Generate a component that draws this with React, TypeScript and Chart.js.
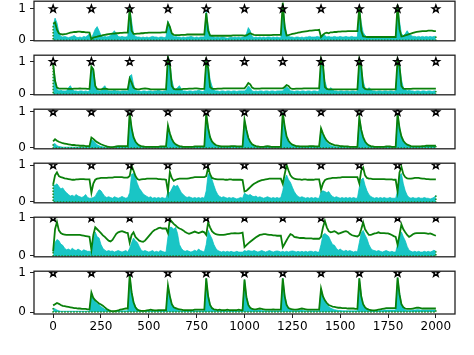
import React, { useEffect, useRef } from "react";
import { Chart, registerables } from "chart.js";

Chart.register(...registerables);

// sampling step of every series (x = index * STEP, 0..2000)
const STEP = 10;
const STAR_X = [0, 200, 400, 600, 800, 1000, 1200, 1400, 1600, 1800, 2000];
const STAR_Y = [1, 1, 1, 1, 1, 1, 1, 1, 1, 1, 1];
const X_TICKS = [0, 250, 500, 750, 1000, 1250, 1500, 1750, 2000];
const Y_TICKS = [0, 1];

// ---------- panel 1 ----------
const G1 = [
  0.52,0.56,0.33,0.22,0.19,0.18,0.19,0.2,0.22,0.24,0.25,0.26,0.26,0.27,0.27,0.26,0.26,0.25,0.25,0.24,
  0.03,0.08,0.1,0.11,0.13,0.14,0.16,0.17,0.18,0.19,0.2,0.21,0.21,0.22,0.22,0.23,0.23,0.24,0.24,0.24,
  1.0,0.3,0.2,0.2,0.21,0.21,0.22,0.22,0.23,0.23,0.24,0.24,0.24,0.24,0.24,0.24,0.24,0.25,0.25,0.25,
  0.55,0.42,0.22,0.17,0.16,0.16,0.16,0.17,0.17,0.17,0.18,0.18,0.18,0.18,0.18,0.18,0.18,0.18,0.18,0.18,
  0.86,0.3,0.15,0.14,0.14,0.14,0.14,0.14,0.14,0.14,0.14,0.14,0.14,0.14,0.15,0.15,0.15,0.15,0.15,0.15,
  0.14,0.15,0.19,0.22,0.19,0.17,0.16,0.16,0.16,0.16,0.16,0.16,0.16,0.16,0.16,0.17,0.17,0.17,0.17,0.17,
  1.19,0.4,0.15,0.16,0.18,0.2,0.21,0.22,0.24,0.25,0.26,0.27,0.28,0.29,0.3,0.3,0.31,0.32,0.32,0.33,
  0.1,0.17,0.22,0.24,0.22,0.25,0.25,0.26,0.26,0.27,0.27,0.28,0.28,0.28,0.29,0.29,0.29,0.29,0.29,0.29,
  1.05,0.3,0.12,0.11,0.1,0.1,0.1,0.1,0.1,0.1,0.1,0.1,0.1,0.1,0.1,0.1,0.1,0.1,0.1,0.1,
  1.12,0.35,0.12,0.13,0.15,0.17,0.19,0.21,0.23,0.25,0.26,0.27,0.28,0.29,0.29,0.29,0.3,0.3,0.3,0.29,
  0.29,
];
const C1 = [
  0.45,0.7,0.55,0.25,0.12,0.1,0.12,0.1,0.08,0.1,0.12,0.15,0.1,0.08,0.1,0.08,0.12,0.1,0.15,0.2,
  0.05,0.2,0.35,0.43,0.3,0.15,0.1,0.12,0.1,0.12,0.15,0.22,0.3,0.2,0.12,0.1,0.12,0.1,0.1,0.12,
  1.02,0.6,0.2,0.12,0.1,0.1,0.08,0.1,0.08,0.1,0.08,0.1,0.12,0.1,0.1,0.08,0.1,0.1,0.08,0.1,
  0.6,0.45,0.2,0.1,0.12,0.1,0.1,0.08,0.1,0.08,0.1,0.1,0.12,0.1,0.08,0.1,0.08,0.1,0.1,0.1,
  0.95,0.45,0.15,0.12,0.1,0.08,0.1,0.08,0.1,0.1,0.08,0.06,0.08,0.1,0.08,0.1,0.08,0.1,0.08,0.1,
  0.1,0.2,0.4,0.3,0.12,0.08,0.1,0.08,0.1,0.08,0.1,0.08,0.1,0.1,0.08,0.1,0.08,0.1,0.08,0.08,
  1.15,0.55,0.2,0.12,0.1,0.1,0.08,0.1,0.1,0.08,0.1,0.08,0.1,0.1,0.12,0.1,0.1,0.1,0.12,0.1,
  0.12,0.2,0.15,0.1,0.12,0.1,0.1,0.12,0.1,0.1,0.12,0.1,0.1,0.12,0.1,0.1,0.12,0.1,0.1,0.1,
  1.0,0.55,0.25,0.15,0.1,0.08,0.1,0.08,0.1,0.08,0.1,0.08,0.1,0.08,0.08,0.1,0.08,0.1,0.08,0.08,
  1.1,0.6,0.2,0.15,0.2,0.3,0.2,0.15,0.12,0.12,0.1,0.12,0.1,0.12,0.1,0.12,0.1,0.12,0.1,0.12,
  0.12,
];

// ---------- panel 2 ----------
const G2 = [
  0.94,0.4,0.2,0.17,0.17,0.17,0.17,0.17,0.16,0.16,0.16,0.17,0.17,0.17,0.18,0.17,0.17,0.17,0.16,0.16,
  0.84,0.75,0.25,0.16,0.15,0.15,0.16,0.17,0.16,0.15,0.15,0.15,0.15,0.15,0.15,0.15,0.15,0.15,0.15,0.15,
  0.48,0.35,0.2,0.16,0.15,0.15,0.16,0.17,0.18,0.17,0.16,0.15,0.15,0.15,0.15,0.15,0.15,0.15,0.15,0.15,
  1.13,0.9,0.25,0.16,0.15,0.15,0.15,0.15,0.16,0.16,0.16,0.17,0.17,0.17,0.18,0.18,0.17,0.16,0.16,0.16,
  1.0,0.8,0.22,0.17,0.16,0.16,0.17,0.17,0.17,0.18,0.18,0.18,0.18,0.18,0.18,0.18,0.18,0.18,0.18,0.18,
  0.18,0.25,0.34,0.3,0.2,0.17,0.17,0.17,0.17,0.18,0.18,0.18,0.18,0.18,0.18,0.18,0.18,0.18,0.18,0.18,
  0.18,0.22,0.28,0.25,0.18,0.16,0.16,0.17,0.17,0.17,0.17,0.18,0.18,0.18,0.18,0.18,0.18,0.18,0.18,0.18,
  1.07,0.9,0.22,0.16,0.15,0.15,0.15,0.15,0.15,0.15,0.15,0.15,0.15,0.15,0.15,0.15,0.15,0.15,0.15,0.15,
  1.06,0.85,0.22,0.16,0.15,0.15,0.15,0.15,0.15,0.15,0.15,0.15,0.15,0.15,0.15,0.15,0.15,0.15,0.15,0.15,
  1.05,0.85,0.25,0.17,0.16,0.16,0.16,0.16,0.17,0.17,0.17,0.17,0.17,0.17,0.17,0.17,0.17,0.17,0.17,0.17,
  0.17,
];
const C2 = [
  0.9,0.5,0.15,0.1,0.12,0.1,0.1,0.1,0.2,0.26,0.15,0.1,0.1,0.08,0.1,0.1,0.08,0.1,0.08,0.1,
  0.85,0.8,0.3,0.12,0.1,0.1,0.2,0.26,0.15,0.1,0.1,0.1,0.12,0.1,0.1,0.08,0.1,0.1,0.1,0.08,
  0.55,0.6,0.3,0.12,0.1,0.1,0.08,0.1,0.1,0.08,0.1,0.1,0.08,0.1,0.1,0.12,0.1,0.08,0.1,0.1,
  1.15,1.0,0.45,0.2,0.15,0.2,0.26,0.15,0.1,0.1,0.08,0.1,0.1,0.08,0.1,0.1,0.12,0.1,0.08,0.1,
  1.05,0.9,0.45,0.25,0.12,0.1,0.1,0.08,0.1,0.1,0.08,0.1,0.1,0.08,0.1,0.1,0.08,0.1,0.1,0.1,
  0.1,0.15,0.25,0.2,0.1,0.08,0.1,0.08,0.1,0.1,0.08,0.1,0.1,0.08,0.1,0.1,0.08,0.1,0.1,0.1,
  0.1,0.18,0.22,0.18,0.1,0.1,0.08,0.1,0.1,0.08,0.1,0.1,0.08,0.1,0.1,0.08,0.1,0.1,0.08,0.1,
  1.05,0.95,0.4,0.2,0.12,0.2,0.15,0.1,0.1,0.08,0.1,0.1,0.08,0.1,0.1,0.08,0.1,0.1,0.08,0.1,
  1.03,0.9,0.4,0.2,0.12,0.2,0.15,0.1,0.1,0.08,0.1,0.1,0.08,0.1,0.1,0.08,0.1,0.1,0.08,0.1,
  1.0,0.95,0.45,0.2,0.15,0.1,0.12,0.1,0.1,0.08,0.1,0.1,0.08,0.1,0.1,0.08,0.1,0.1,0.08,0.1,
  0.1,
];

// ---------- panel 3 ----------
const G3 = [
  0.18,0.24,0.2,0.17,0.15,0.13,0.12,0.11,0.1,0.09,0.08,0.08,0.07,0.07,0.06,0.06,0.06,0.05,0.05,0.05,
  0.29,0.25,0.2,0.16,0.13,0.1,0.08,0.06,0.04,0.03,0.02,0.02,0.03,0.04,0.05,0.05,0.05,0.05,0.05,0.05,
  0.98,0.55,0.3,0.18,0.11,0.07,0.05,0.04,0.03,0.03,0.03,0.03,0.03,0.03,0.03,0.03,0.04,0.04,0.04,0.04,
  0.62,0.4,0.25,0.15,0.1,0.07,0.05,0.04,0.03,0.03,0.03,0.03,0.03,0.03,0.04,0.04,0.04,0.04,0.04,0.04,
  0.95,0.55,0.3,0.18,0.12,0.08,0.06,0.05,0.04,0.04,0.04,0.04,0.04,0.05,0.05,0.05,0.04,0.04,0.04,0.04,
  0.78,0.5,0.28,0.17,0.1,0.07,0.05,0.04,0.03,0.03,0.03,0.04,0.05,0.04,0.03,0.03,0.03,0.03,0.03,0.03,
  0.98,0.6,0.32,0.2,0.13,0.09,0.07,0.05,0.05,0.04,0.04,0.04,0.04,0.04,0.05,0.05,0.05,0.04,0.04,0.04,
  0.54,0.4,0.28,0.2,0.15,0.12,0.1,0.08,0.07,0.06,0.05,0.05,0.04,0.04,0.04,0.03,0.03,0.03,0.03,0.03,
  0.85,0.5,0.3,0.18,0.11,0.07,0.05,0.04,0.03,0.03,0.03,0.03,0.03,0.03,0.04,0.04,0.04,0.03,0.03,0.03,
  0.95,0.55,0.32,0.2,0.13,0.09,0.07,0.05,0.04,0.04,0.04,0.04,0.04,0.05,0.05,0.06,0.06,0.06,0.06,0.06,
  0.06,
];
const C3 = [
  0.1,0.12,0.06,0.04,0.03,0.02,0.02,0.02,0.02,0.02,0.02,0.02,0.02,0.02,0.02,0.02,0.02,0.02,0.02,0.02,
  0.22,0.2,0.14,0.09,0.06,0.04,0.03,0.02,0.02,0.02,0.02,0.02,0.02,0.02,0.03,0.03,0.03,0.03,0.03,0.03,
  0.98,0.6,0.3,0.16,0.09,0.05,0.04,0.03,0.02,0.02,0.02,0.02,0.02,0.02,0.02,0.02,0.03,0.03,0.03,0.03,
  0.62,0.42,0.24,0.13,0.08,0.05,0.04,0.03,0.02,0.02,0.02,0.02,0.02,0.02,0.03,0.03,0.03,0.03,0.03,0.03,
  0.95,0.6,0.3,0.16,0.1,0.06,0.04,0.03,0.03,0.03,0.03,0.03,0.03,0.04,0.04,0.04,0.03,0.03,0.03,0.03,
  0.78,0.52,0.26,0.14,0.08,0.05,0.04,0.03,0.02,0.02,0.02,0.03,0.04,0.03,0.02,0.02,0.02,0.02,0.02,0.02,
  0.98,0.62,0.3,0.17,0.1,0.07,0.05,0.04,0.04,0.03,0.03,0.03,0.03,0.03,0.04,0.04,0.04,0.03,0.03,0.03,
  0.54,0.4,0.24,0.15,0.1,0.07,0.05,0.04,0.03,0.03,0.03,0.03,0.02,0.02,0.02,0.02,0.02,0.02,0.02,0.02,
  0.85,0.55,0.28,0.15,0.08,0.05,0.04,0.03,0.02,0.02,0.02,0.02,0.02,0.02,0.03,0.03,0.03,0.02,0.02,0.02,
  0.95,0.6,0.3,0.17,0.1,0.07,0.05,0.04,0.03,0.03,0.03,0.03,0.03,0.04,0.04,0.05,0.05,0.05,0.05,0.05,
  0.05,
];

// ---------- panel 4 ----------
const G4 = [
  0.47,0.72,0.8,0.7,0.67,0.66,0.64,0.63,0.62,0.61,0.6,0.6,0.61,0.61,0.62,0.62,0.62,0.61,0.61,0.61,
  0.25,0.5,0.6,0.63,0.64,0.65,0.65,0.65,0.65,0.66,0.66,0.66,0.67,0.67,0.67,0.67,0.67,0.66,0.66,0.66,
  0.7,0.98,0.85,0.7,0.62,0.6,0.61,0.62,0.62,0.63,0.63,0.63,0.63,0.63,0.63,0.62,0.62,0.61,0.61,0.6,
  0.28,0.81,0.65,0.57,0.6,0.62,0.63,0.63,0.63,0.63,0.63,0.64,0.65,0.66,0.67,0.67,0.67,0.67,0.67,0.67,
  0.7,0.93,0.75,0.65,0.63,0.62,0.61,0.61,0.61,0.61,0.6,0.6,0.61,0.61,0.6,0.6,0.6,0.6,0.6,0.59,
  0.28,0.3,0.35,0.4,0.45,0.49,0.52,0.55,0.57,0.59,0.6,0.61,0.62,0.63,0.63,0.63,0.63,0.63,0.63,0.63,
  0.49,0.75,1.0,0.85,0.72,0.66,0.63,0.62,0.61,0.61,0.6,0.61,0.61,0.6,0.6,0.6,0.6,0.61,0.61,0.61,
  0.33,0.5,0.59,0.62,0.63,0.64,0.65,0.65,0.65,0.66,0.66,0.67,0.67,0.67,0.67,0.67,0.67,0.67,0.67,0.67,
  0.5,0.85,0.93,0.72,0.65,0.63,0.63,0.62,0.62,0.62,0.62,0.62,0.62,0.62,0.61,0.61,0.61,0.61,0.6,0.6,
  0.28,0.8,0.95,0.75,0.67,0.64,0.63,0.63,0.64,0.65,0.65,0.65,0.64,0.63,0.63,0.62,0.62,0.61,0.61,0.61,
  0.61,
];
const C4 = [
  0.47,0.45,0.49,0.42,0.35,0.38,0.3,0.25,0.2,0.16,0.18,0.15,0.2,0.16,0.14,0.12,0.15,0.2,0.12,0.1,
  0.1,0.12,0.15,0.25,0.33,0.3,0.22,0.15,0.12,0.14,0.12,0.1,0.14,0.12,0.1,0.12,0.15,0.12,0.1,0.12,
  0.25,0.75,0.77,0.65,0.5,0.37,0.3,0.22,0.18,0.15,0.12,0.14,0.1,0.12,0.1,0.12,0.1,0.12,0.1,0.1,
  0.28,0.25,0.35,0.45,0.42,0.45,0.35,0.25,0.2,0.15,0.12,0.14,0.12,0.1,0.12,0.1,0.12,0.1,0.12,0.1,
  0.3,0.77,0.7,0.61,0.45,0.3,0.2,0.15,0.12,0.14,0.12,0.1,0.12,0.1,0.12,0.1,0.08,0.1,0.12,0.1,
  0.24,0.2,0.18,0.2,0.16,0.14,0.16,0.12,0.14,0.12,0.1,0.12,0.14,0.12,0.1,0.12,0.1,0.12,0.1,0.12,
  0.3,0.6,0.73,0.6,0.53,0.4,0.28,0.2,0.15,0.12,0.14,0.12,0.1,0.12,0.1,0.12,0.1,0.12,0.1,0.1,
  0.28,0.3,0.28,0.25,0.28,0.2,0.15,0.12,0.14,0.12,0.1,0.12,0.1,0.12,0.1,0.12,0.1,0.12,0.1,0.1,
  0.4,0.6,0.65,0.45,0.3,0.2,0.15,0.12,0.1,0.12,0.1,0.12,0.1,0.12,0.1,0.1,0.12,0.1,0.1,0.1,
  0.3,0.7,0.77,0.49,0.3,0.18,0.12,0.1,0.12,0.1,0.1,0.12,0.1,0.1,0.12,0.1,0.1,0.08,0.1,0.12,
  0.18,
];

// ---------- panel 5 ----------
const G5 = [
  0.12,0.7,0.89,0.67,0.6,0.57,0.56,0.55,0.55,0.55,0.55,0.55,0.55,0.55,0.55,0.54,0.53,0.52,0.51,0.5,
  0.16,0.55,0.75,0.7,0.65,0.6,0.54,0.5,0.45,0.4,0.38,0.42,0.5,0.58,0.62,0.64,0.65,0.63,0.61,0.6,
  0.35,0.55,0.62,0.5,0.45,0.4,0.38,0.37,0.4,0.46,0.52,0.58,0.64,0.68,0.7,0.73,0.74,0.72,0.72,0.72,
  0.6,0.96,0.9,0.84,0.8,0.75,0.72,0.7,0.67,0.63,0.6,0.58,0.6,0.62,0.64,0.62,0.6,0.62,0.64,0.62,
  0.55,0.88,0.75,0.65,0.6,0.57,0.56,0.55,0.55,0.55,0.56,0.57,0.58,0.59,0.59,0.6,0.59,0.59,0.6,0.61,
  0.23,0.28,0.33,0.37,0.41,0.45,0.49,0.52,0.55,0.56,0.57,0.57,0.56,0.55,0.55,0.54,0.54,0.53,0.53,0.53,
  0.23,0.32,0.41,0.5,0.57,0.55,0.5,0.49,0.48,0.47,0.47,0.47,0.46,0.46,0.46,0.46,0.45,0.45,0.45,0.45,
  0.5,0.75,0.92,0.75,0.65,0.62,0.63,0.65,0.62,0.58,0.6,0.62,0.64,0.65,0.63,0.58,0.55,0.53,0.52,0.51,
  0.55,0.7,0.88,0.7,0.62,0.55,0.55,0.57,0.59,0.6,0.62,0.6,0.6,0.6,0.59,0.59,0.57,0.55,0.52,0.5,
  0.29,0.55,0.83,0.7,0.62,0.55,0.5,0.53,0.57,0.59,0.6,0.6,0.6,0.6,0.6,0.59,0.58,0.59,0.57,0.55,
  0.53,
];
const C5 = [
  0.1,0.35,0.43,0.4,0.31,0.28,0.2,0.16,0.18,0.15,0.2,0.16,0.14,0.18,0.15,0.12,0.16,0.14,0.12,0.12,
  0.1,0.4,0.63,0.5,0.47,0.3,0.2,0.15,0.12,0.14,0.12,0.13,0.1,0.12,0.14,0.12,0.1,0.12,0.14,0.1,
  0.2,0.35,0.47,0.4,0.35,0.25,0.15,0.12,0.14,0.12,0.1,0.12,0.14,0.1,0.12,0.1,0.14,0.12,0.1,0.1,
  0.5,0.75,0.75,0.7,0.75,0.59,0.3,0.2,0.14,0.12,0.14,0.12,0.1,0.12,0.15,0.12,0.18,0.14,0.12,0.1,
  0.3,0.67,0.55,0.45,0.3,0.2,0.14,0.12,0.1,0.12,0.1,0.12,0.1,0.12,0.1,0.1,0.12,0.1,0.1,0.1,
  0.14,0.12,0.14,0.13,0.12,0.14,0.12,0.1,0.12,0.14,0.12,0.1,0.12,0.14,0.12,0.1,0.12,0.13,0.12,0.1,
  0.12,0.1,0.12,0.1,0.12,0.13,0.12,0.1,0.12,0.1,0.12,0.1,0.12,0.1,0.12,0.12,0.1,0.12,0.1,0.1,
  0.3,0.55,0.59,0.55,0.51,0.4,0.3,0.28,0.2,0.15,0.18,0.14,0.12,0.15,0.12,0.14,0.12,0.1,0.12,0.1,
  0.35,0.6,0.67,0.55,0.45,0.3,0.2,0.15,0.14,0.12,0.14,0.12,0.1,0.12,0.14,0.12,0.1,0.12,0.1,0.1,
  0.3,0.5,0.63,0.5,0.4,0.25,0.15,0.12,0.1,0.12,0.1,0.12,0.1,0.1,0.12,0.1,0.12,0.1,0.12,0.15,
  0.12,
];

// ---------- panel 6 ----------
const G6 = [
  0.17,0.2,0.23,0.21,0.18,0.16,0.15,0.14,0.13,0.12,0.11,0.1,0.1,0.09,0.09,0.08,0.08,0.08,0.07,0.07,
  0.5,0.36,0.3,0.26,0.22,0.19,0.16,0.12,0.08,0.05,0.03,0.02,0.02,0.03,0.04,0.06,0.07,0.08,0.09,0.09,
  0.94,0.5,0.25,0.12,0.06,0.04,0.03,0.03,0.03,0.04,0.05,0.06,0.05,0.04,0.04,0.05,0.05,0.05,0.05,0.05,
  0.68,0.4,0.2,0.12,0.1,0.08,0.07,0.06,0.05,0.05,0.05,0.05,0.05,0.05,0.06,0.06,0.06,0.06,0.06,0.06,
  0.86,0.4,0.18,0.1,0.07,0.06,0.05,0.06,0.05,0.05,0.05,0.06,0.05,0.05,0.05,0.05,0.05,0.06,0.05,0.05,
  0.83,0.38,0.18,0.11,0.08,0.07,0.07,0.08,0.09,0.08,0.07,0.06,0.06,0.06,0.06,0.07,0.06,0.06,0.06,0.06,
  0.86,0.4,0.18,0.1,0.08,0.07,0.06,0.06,0.07,0.08,0.09,0.08,0.07,0.06,0.06,0.06,0.06,0.06,0.06,0.06,
  0.6,0.4,0.3,0.23,0.18,0.16,0.14,0.13,0.12,0.11,0.11,0.1,0.1,0.1,0.09,0.09,0.09,0.09,0.08,0.08,
  0.86,0.4,0.2,0.12,0.08,0.06,0.05,0.04,0.04,0.05,0.06,0.07,0.08,0.09,0.1,0.1,0.1,0.1,0.1,0.1,
  0.88,0.45,0.2,0.12,0.09,0.08,0.08,0.08,0.09,0.1,0.11,0.11,0.1,0.09,0.09,0.09,0.09,0.09,0.09,0.09,
  0.09,
];
const C6 = [
  0.1,0.08,0.05,0.03,0.02,0.02,0.02,0.02,0.02,0.02,0.02,0.02,0.02,0.02,0.02,0.02,0.02,0.02,0.02,0.02,
  0.5,0.34,0.27,0.22,0.18,0.14,0.1,0.07,0.05,0.03,0.02,0.02,0.02,0.02,0.02,0.03,0.03,0.03,0.03,0.03,
  0.94,0.55,0.28,0.14,0.07,0.04,0.03,0.02,0.02,0.02,0.03,0.03,0.03,0.02,0.02,0.03,0.03,0.03,0.03,0.03,
  0.68,0.42,0.22,0.12,0.08,0.06,0.04,0.03,0.03,0.03,0.03,0.03,0.03,0.03,0.03,0.03,0.03,0.03,0.03,0.03,
  0.86,0.45,0.2,0.1,0.06,0.04,0.03,0.03,0.03,0.03,0.03,0.03,0.03,0.03,0.03,0.03,0.03,0.03,0.03,0.03,
  0.83,0.42,0.2,0.1,0.06,0.04,0.04,0.05,0.05,0.04,0.03,0.03,0.03,0.03,0.03,0.03,0.03,0.03,0.03,0.03,
  0.86,0.45,0.2,0.1,0.06,0.04,0.03,0.03,0.04,0.05,0.05,0.04,0.03,0.03,0.03,0.03,0.03,0.03,0.03,0.03,
  0.6,0.42,0.28,0.2,0.14,0.1,0.08,0.06,0.05,0.04,0.04,0.03,0.03,0.03,0.03,0.03,0.03,0.03,0.03,0.03,
  0.86,0.45,0.2,0.1,0.06,0.04,0.03,0.03,0.03,0.03,0.03,0.04,0.04,0.05,0.05,0.05,0.05,0.05,0.05,0.05,
  0.88,0.5,0.22,0.1,0.06,0.04,0.04,0.04,0.05,0.05,0.06,0.06,0.05,0.05,0.05,0.05,0.05,0.05,0.05,0.05,
  0.05,
];

const PANELS = [
  { g: G1, c: C1, ymin: -0.02, ymax: 1.237 },
  { g: G2, c: C2, ymin: -0.019, ymax: 1.193 },
  { g: G3, c: C3, ymin: -0.025, ymax: 1.075 },
  { g: G4, c: C4, ymin: -0.024, ymax: 1.049 },
  { g: G5, c: C5, ymin: -0.024, ymax: 1.017 },
  { g: G6, c: C6, ymin: -0.05, ymax: 1.042 },
];

// layout (pixels)
const W = 474;
const H = 355;
const AREA_TOP = [0, 54, 108, 162, 216, 270];
const AREA_H = 44;
const AREA_LEFT = 34;
const AREA_RIGHT = 455;
const PAD_T = 10;
const PAD_B = 8;
const FONT = { family: "DejaVu Sans", size: 12 };

// draws the star markers of dataset 0 at the positions Chart.js computed
const starPlugin = {
  id: "stars",
  afterDatasetsDraw(chart: any) {
    const { ctx, chartArea } = chart;
    const meta = chart.getDatasetMeta(0);
    ctx.save();
    ctx.beginPath();
    ctx.rect(chartArea.left, chartArea.top, chartArea.right - chartArea.left, chartArea.bottom - chartArea.top);
    ctx.clip();
    ctx.strokeStyle = "#000";
    ctx.lineWidth = 1.5;
    ctx.lineJoin = "miter";
    for (const el of meta.data) {
      const cx = el.x;
      const cy = el.y;
      ctx.beginPath();
      for (let k = 0; k < 10; k++) {
        const r = k % 2 === 0 ? 3.7 : 1.5;
        const a = -Math.PI / 2 + (k * Math.PI) / 5;
        const px = cx + r * Math.cos(a);
        const py = cy + 0.3 + r * Math.sin(a);
        if (k === 0) ctx.moveTo(px, py);
        else ctx.lineTo(px, py);
      }
      ctx.closePath();
      ctx.stroke();
    }
    ctx.restore();
  },
};

const boxPlugin = {
  id: "box",
  afterDraw(chart: any) {
    const { ctx, chartArea } = chart;
    ctx.save();
    ctx.strokeStyle = "#222";
    ctx.lineWidth = 1.3;
    ctx.strokeRect(chartArea.left, chartArea.top, chartArea.right - chartArea.left, chartArea.bottom - chartArea.top);
    ctx.restore();
  },
};

function canvasHeight(i: number) {
  const last = i === PANELS.length - 1;
  return last ? PAD_T + AREA_H + (H - (AREA_TOP[i] + AREA_H)) : PAD_T + AREA_H + PAD_B;
}

export default function App() {
  const refs = useRef<(HTMLCanvasElement | null)[]>([]);

  useEffect(() => {
    const charts = PANELS.map((p, i) => {
      const last = i === PANELS.length - 1;
      const canvas = refs.current[i]!;
      const green = p.g.map((v, k) => ({ x: k * STEP, y: v }));
      const cyan = p.c.map((v, k) => ({ x: k * STEP, y: v }));
      const lastX = (p.c.length - 1) * STEP;
      const base = [
        { x: 0, y: p.c[0] },
        { x: 0, y: 0 },
        { x: lastX, y: 0 },
        { x: lastX, y: p.c[p.c.length - 1] },
      ];
      const stars = STAR_X.map((x, k) => ({ x, y: STAR_Y[k] }));
      const xAxisH = last ? H - (AREA_TOP[i] + AREA_H) : 0;
      return new Chart(canvas, {
        type: "line",
        data: {
          datasets: [
            {
              data: stars,
              showLine: false,
              pointRadius: 0,
              order: 0,
            },
            {
              data: base,
              borderColor: "#1a8a1a",
              borderWidth: 1.5,
              borderDash: [1.5, 1.5],
              pointRadius: 0,
              fill: false,
              order: 1,
            },
            {
              data: green,
              borderColor: "#0a800a",
              borderWidth: 1.8,
              pointRadius: 0,
              fill: false,
              tension: 0,
              order: 2,
              clip: 0,
            } as any,
            {
              data: cyan,
              borderColor: "rgba(0,191,191,0.9)",
              borderWidth: 0.8,
              backgroundColor: "rgba(0,191,191,0.9)",
              pointRadius: 0,
              fill: "origin",
              tension: 0,
              order: 3,
              clip: 0,
            } as any,
          ],
        },
        options: {
          responsive: false,
          animation: false,
          devicePixelRatio: 1,
          events: [],
          layout: {
            padding: { top: PAD_T, left: 0, right: W - AREA_RIGHT, bottom: last ? 0 : PAD_B },
          },
          plugins: { legend: { display: false }, tooltip: { enabled: false } },
          scales: {
            x: {
              type: "linear",
              min: -100,
              max: 2100,
              display: last,
              afterBuildTicks: (s: any) => {
                s.ticks = X_TICKS.map((v) => ({ value: v }));
              },
              afterFit: (s: any) => {
                s.height = xAxisH;
              },
              border: { display: false },
              grid: {
                drawOnChartArea: false,
                drawTicks: true,
                tickLength: 4,
                tickColor: "#222",
                tickWidth: 1,
              },
              ticks: {
                color: "#000",
                font: FONT,
                padding: 2,
                maxRotation: 0,
                autoSkip: false,
                callback: (v: any) => String(v),
              },
            },
            y: {
              type: "linear",
              min: p.ymin,
              max: p.ymax,
              afterBuildTicks: (s: any) => {
                s.ticks = Y_TICKS.map((v) => ({ value: v }));
              },
              afterFit: (s: any) => {
                s.width = AREA_LEFT;
              },
              border: { display: false },
              grid: {
                drawOnChartArea: false,
                drawTicks: true,
                tickLength: 4,
                tickColor: "#222",
                tickWidth: 1,
              },
              ticks: {
                color: "#000",
                font: FONT,
                padding: 4,
                autoSkip: false,
                callback: (v: any) => String(v),
              },
            },
          },
        },
        plugins: [starPlugin, boxPlugin],
      } as any);
    });
    return () => charts.forEach((c) => c.destroy());
  }, []);

  return (
    <div
      style={{
        position: "fixed",
        left: 0,
        top: 0,
        width: W,
        height: H,
        background: "#fff",
        overflow: "hidden",
      }}
    >
      {PANELS.map((_, i) => (
        <canvas
          key={i}
          ref={(el) => {
            refs.current[i] = el;
          }}
          width={W}
          height={canvasHeight(i)}
          style={{
            position: "absolute",
            left: 0,
            top: AREA_TOP[i] - PAD_T,
            width: W,
            height: canvasHeight(i),
          }}
        />
      ))}
    </div>
  );
}
